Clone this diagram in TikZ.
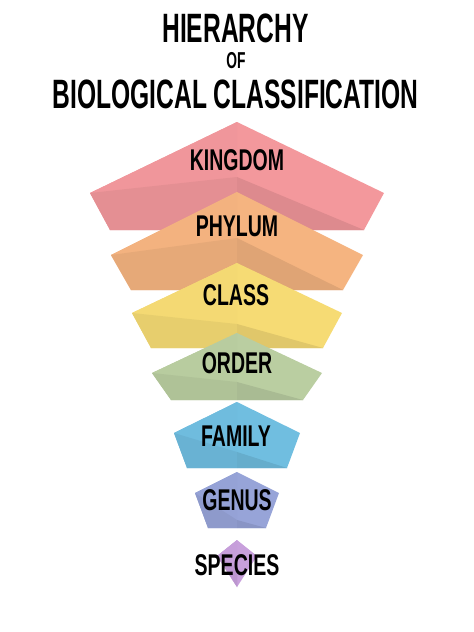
\documentclass[tikz,border=0pt]{standalone}
\usepackage{fontspec}
\setmainfont{Liberation Sans}
\newfontfamily\titlefont{Liberation Sans}[FakeStretch=0.6]
\newfontfamily\rankfont{Liberation Sans}[FakeStretch=0.65]
\definecolor{kingdomC}{RGB}{243,152,156}
\definecolor{phylumC}{RGB}{245,180,128}
\definecolor{classC}{RGB}{246,219,116}
\definecolor{orderC}{RGB}{186,206,161}
\definecolor{familyC}{RGB}{112,190,224}
\definecolor{genusC}{RGB}{151,164,216}
\definecolor{speciesC}{RGB}{200,160,220}
\tikzset{%
  % Specifications for style of texts:
      heading/.style = {inner sep=0pt, anchor=base,
                        font=\titlefont\bfseries\fontsize{41}{41}\selectfont},
   subheading/.style = {heading, font=\titlefont\bfseries\fontsize{23}{23}\selectfont},
        label/.style = {inner sep=0pt, anchor=base,
                        font=\rankfont\bfseries\fontsize{30}{30}\selectfont},
}
% one rank: name, colour, top, half width, corner, bottom half width, bottom, middle
\newcommand{\rankshape}[8]{%
  \coordinate (#1-top)   at (237,#3);
  \coordinate (#1-left)  at ({237-#4},#5);
  \coordinate (#1-right) at ({237+#4},#5);
  \coordinate (#1-bl)    at ({237-#6},#7);
  \coordinate (#1-br)    at ({237+#6},#7);
  \coordinate (#1-bot)   at (237,#7);
  \coordinate (#1-mid)   at (237,#8);
  \fill[#2] (#1-top) -- (#1-right) -- (#1-br) -- (#1-bl) -- (#1-left) -- cycle;
  \fill[#2!99!black] (#1-top) -- (#1-left) -- (#1-mid) -- cycle;
  \fill[#2!94!black] (#1-left) -- (#1-mid) -- (#1-bot) -- (#1-bl) -- cycle;
  \fill[#2!91!black] (#1-mid) -- (#1-br) -- (#1-bot) -- cycle;
}

\begin{document}
\begin{tikzpicture}[x=1pt, y=-1pt]
  \fill[white] (0,0) rectangle (474,632);
  \useasboundingbox (0,0) rectangle (474,632);
  % Specification of the title
  \node (title1) [heading]    at (235.5,42)  {HIERARCHY};
  \node (title2) [subheading] at (236,68)    {OF};
  \node (title3) [heading]    at (235.5,108) {BIOLOGICAL CLASSIFICATION};
  % Specification of the ranks, from top to bottom
  \rankshape{kingdom}{kingdomC}{122}{147}{193}{127}{230}{177}
  \rankshape{phylum}{phylumC}{192}{126}{255}{106}{290}{238}
  \rankshape{class}{classC}{263}{105}{313}{86}{348}{324}
  \rankshape{order}{orderC}{333}{85}{373}{66}{400}{382}
  \rankshape{family}{familyC}{402}{63}{433}{50}{468}{452}
  \rankshape{genus}{genusC}{472}{42}{493}{29}{528}{520}
  \rankshape{species}{speciesC}{540}{20}{556}{0}{587}{568}
  % Names of the ranks
  \node (kingdomT) [label] at (237,170) {KINGDOM};
  \node (phylumT)  [label] at (237,236) {PHYLUM};
  \node (classT)   [label] at (236,305) {CLASS};
  \node (orderT)   [label] at (237,373) {ORDER};
  \node (familyT)  [label] at (236,446) {FAMILY};
  \node (genusT)   [label] at (237,510) {GENUS};
  \node (speciesT) [label] at (237,575) {SPECIES};
\end{tikzpicture}
\end{document}
